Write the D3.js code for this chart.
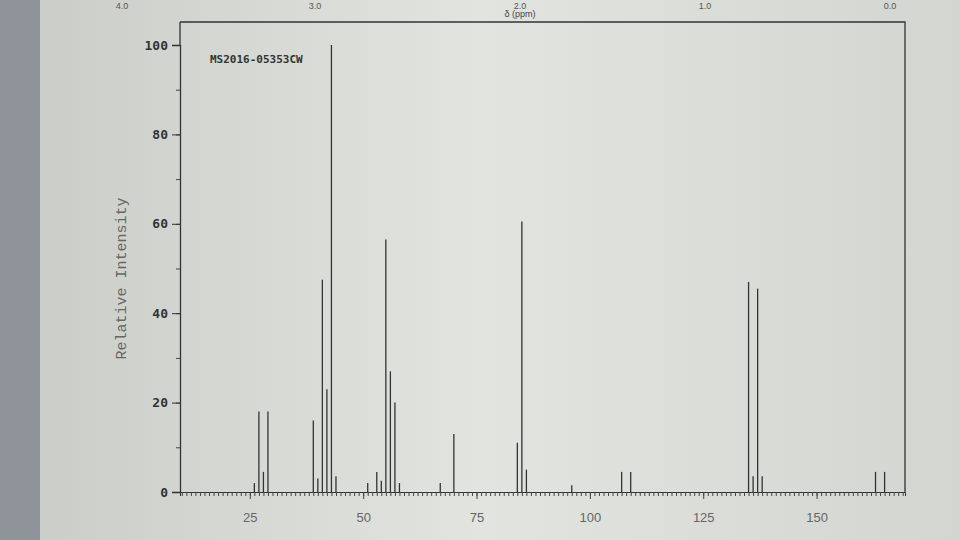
<!DOCTYPE html>
<html><head><meta charset="utf-8">
<script src="https://cdn.jsdelivr.net/npm/d3@7"></script>
<style>body{margin:0;background:#d6d8d2;}</style>
</head><body>
<svg id="chart" width="960" height="540"></svg>
<script>
// peaks (m/z, relative intensity)
var mz =        [26, 27, 28, 29, 39, 40, 41, 42, 43, 44, 51, 53, 54, 55, 56, 57, 58, 67, 70, 84, 85, 86, 96, 107, 109, 135, 136, 137, 138, 163, 165];
var intensity = [2, 18, 4.5, 18, 16, 3, 47.5, 23, 100, 3.5, 2, 4.5, 2.5, 56.5, 27, 20, 2, 2, 13, 11, 60.5, 5, 1.5, 4.5, 4.5, 47, 3.5, 45.5, 3.5, 4.5, 4.5];
var xTicks = [25, 50, 75, 100, 125, 150];
var yTicks = [0, 20, 40, 60, 80, 100];

var svg = d3.select('#chart');
var mLeft = 180, mRight = 905, mTop = 45, mBottom = 492;

var bg = svg.append('defs').append('linearGradient').attr('id', 'bg')
  .attr('x1', 0).attr('x2', 1);
bg.append('stop').attr('offset', 0).attr('stop-color', '#c9ccc6');
bg.append('stop').attr('offset', 0.5).attr('stop-color', '#e2e4df');
bg.append('stop').attr('offset', 1).attr('stop-color', '#d3d5d0');
svg.append('rect').attr('width', 960).attr('height', 540).attr('fill', 'url(#bg)');
svg.append('rect').attr('width', 40).attr('height', 540).attr('fill', '#8e949a');

var x = d3.scaleLinear().domain([9.6, 169.5]).range([mLeft, mRight]);
var y = d3.scaleLinear().domain([0, 100]).range([mBottom, mTop]);

// frame
svg.append('path').attr('d', `M${mLeft},22 H${mRight} V${mBottom}`)
  .attr('fill', 'none').attr('stroke', '#333').attr('stroke-width', 1.3);

// top bleed-through text
svg.append('text').attr('x', 520).attr('y', 17).attr('font-family', 'Liberation Sans')
  .attr('font-size', 9).attr('fill', '#444').attr('text-anchor', 'middle').text('δ (ppm)');
[[315, '3.0'], [520, '2.0'], [705, '1.0'], [890, '0.0'], [122, '4.0']].forEach(function(t) {
  svg.append('text').attr('x', t[0]).attr('y', 9).attr('font-family', 'Liberation Sans')
    .attr('font-size', 9).attr('fill', '#555').attr('text-anchor', 'middle').text(t[1]);
});

// x axis with minor ticks every unit
svg.append('g').attr('transform', `translate(0,${mBottom})`)
  .call(d3.axisBottom(x).tickValues(d3.range(10, 170)).tickSize(4).tickFormat(''))
  .call(g => g.select('.domain').attr('stroke', '#333'))
  .call(g => g.selectAll('line').attr('stroke', '#444'));
svg.append('g').attr('transform', `translate(0,${mBottom})`)
  .call(d3.axisBottom(x).tickValues(xTicks).tickSize(7).tickPadding(14))
  .call(g => g.select('.domain').remove())
  .call(g => g.selectAll('line').attr('stroke', '#444'))
  .call(g => g.selectAll('text').attr('font-family', 'Liberation Sans').attr('font-size', 13).attr('fill', '#666'));

// y axis
svg.append('g').attr('transform', `translate(${mLeft},0)`)
  .call(d3.axisLeft(y).tickValues(d3.range(0, 101, 10)).tickSize(4).tickFormat(''))
  .call(g => g.select('.domain').remove())
  .call(g => g.selectAll('line').attr('stroke', '#444'));
svg.append('g').attr('transform', `translate(${mLeft},0)`)
  .call(d3.axisLeft(y).tickValues(yTicks).tickSize(8).tickPadding(4))
  .call(g => g.select('.domain').attr('stroke', '#333').attr('stroke-width', 1.3))
  .call(g => g.selectAll('line').attr('stroke', '#333'))
  .call(g => g.selectAll('text').attr('font-family', 'DejaVu Sans Mono').attr('font-weight', 'bold').attr('font-size', 13).attr('fill', '#333'));
svg.append('line').attr('x1', mLeft).attr('x2', mLeft).attr('y1', 22).attr('y2', mTop).attr('stroke', '#333').attr('stroke-width', 1.3);

svg.append('text').attr('transform', `translate(126,${(mTop + mBottom) / 2 + 10}) rotate(-90)`)
  .attr('text-anchor', 'middle').attr('font-family', 'Liberation Mono').attr('font-size', 15)
  .attr('fill', '#666').text('Relative Intensity');

// peaks
svg.append('g').selectAll('line').data(mz).join('line')
  .attr('x1', d => x(d)).attr('x2', d => x(d))
  .attr('y1', mBottom).attr('y2', (d, i) => y(intensity[i]))
  .attr('stroke', '#333').attr('stroke-width', 1.3);

svg.append('text').attr('x', 210).attr('y', 63).attr('font-family', 'DejaVu Sans Mono')
  .attr('font-weight', 'bold').attr('font-size', 11).attr('fill', '#333').text('MS2016-05353CW');
</script>
</body></html>
